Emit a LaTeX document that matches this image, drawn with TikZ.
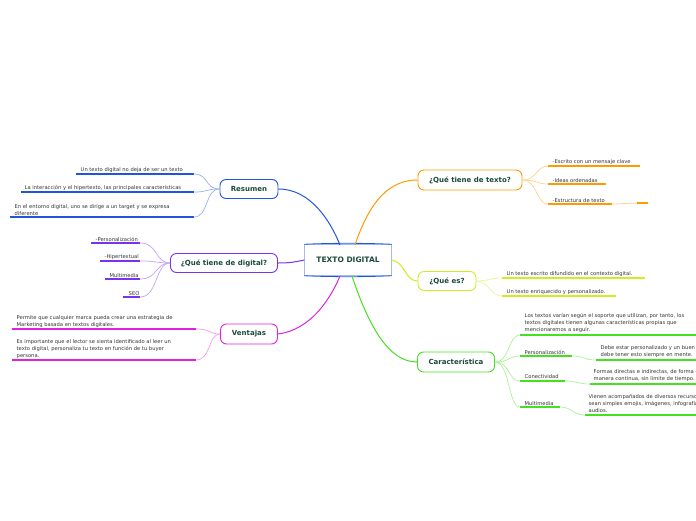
\documentclass[tikz,border=0pt]{standalone}
\usepackage{fontspec}
\setmainfont{DejaVu Sans}
\begin{document}
\begin{tikzpicture}[x=1pt,y=-1pt,
  main/.style={draw=#1,line width=0.9pt,rounded corners=6pt,fill=white,text=tgreen,font=\bfseries\fontsize{7}{8}\selectfont,inner sep=0pt},
  leaf/.style={font=\fontsize{5.2}{7}\selectfont,text=black!80,inner sep=0.5pt,anchor=south west,align=left},
  ul/.style={draw=#1,line width=1.3pt},
  con/.style={draw=#1,line width=0.7pt}]
\definecolor{tgreen}{HTML}{1A4A3A}
\definecolor{cblue}{HTML}{2255DD}
\definecolor{cpurp}{HTML}{7733EE}
\definecolor{cmag}{HTML}{E022E0}
\definecolor{cora}{HTML}{FF9A00}
\definecolor{cyel}{HTML}{CCEE22}
\definecolor{cgre}{HTML}{44E022}
\useasboundingbox (0,0) rectangle (696,520);
\clip (0,0) rectangle (696,520);
% central
\node[draw=cblue!40,line width=0.5pt,minimum width=87pt,minimum height=31pt,text=tgreen,font=\bfseries\fontsize{7.5}{9}\selectfont] (c) at (348,260) {TEXTO DIGITAL};
\draw[cblue,line width=0.8pt] (c.north west) .. controls (330,243) and (366,243) .. (c.north east);
\draw[cblue,line width=0.8pt] (c.south west) .. controls (330,277) and (366,277) .. (c.south east);
% main nodes
\node[main=cblue,minimum width=58pt,minimum height=19pt] (res) at (249,189) {Resumen};
\node[main=cpurp,minimum width=107pt,minimum height=19pt] (dig) at (224,263) {¿Qué tiene de digital?};
\node[main=cmag,minimum width=57pt,minimum height=20pt] (ven) at (249,334) {Ventajas};
\node[main=cora,minimum width=104pt,minimum height=20pt] (tex) at (470,180) {¿Qué tiene de texto?};
\node[main=cyel,minimum width=58pt,minimum height=19pt] (que) at (447,281) {¿Qué es?};
\node[main=cgre,minimum width=77pt,minimum height=20pt] (car) at (456,362) {Característica};
% center connectors
\draw[con=cblue,line width=1pt] (res.east) .. controls (310,189) and (330,220) .. (340,245);
\draw[con=cpurp,line width=1pt] (dig.east) .. controls (290,263) and (295,262) .. (c.west);
\draw[con=cmag,line width=1pt] (ven.east) .. controls (310,330) and (330,300) .. (340,276);
\draw[con=cora,line width=1pt] (355,245) .. controls (370,200) and (390,180) .. (tex.west);
\draw[con=cyel,line width=1pt] (c.east) .. controls (405,262) and (405,281) .. (que.west);
\draw[con=cgre,line width=1pt] (352,276) .. controls (370,330) and (390,362) .. (car.west);
% Resumen leaves
\node[leaf] (r1) at (80,173) {Un texto digital no deja de ser un texto};
\node[leaf] (r2) at (24,191) {La interacción y el hipertexto, las principales características};
\node[leaf] (r3) at (14,216) {En el entorno digital, uno se dirige a un target y se expresa\\diferente};
\coordinate (r1a) at (76,174); \coordinate (r1e) at (194,174);
\coordinate (r2a) at (21,192); \coordinate (r2e) at (194,192);
\coordinate (r3a) at (10,217); \coordinate (r3e) at (194,217);
\foreach \n in {r1,r2,r3}{\draw[ul=cblue] (\n a) -- (\n e);
  \draw[con=cblue!45] (\n e) .. controls +(15,0) and +(-15,0) .. (res.west);}
% digital leaves
\node[leaf] (d1) at (95,242) {-Personalización};
\node[leaf] (d2) at (104,260) {-Hipertextual};
\node[leaf] (d3) at (109,278) {Multimedia};
\node[leaf] (d4) at (128,296) {SEO};
\coordinate (d1a) at (91,243); \coordinate (d1e) at (140,243);
\coordinate (d2a) at (100,261); \coordinate (d2e) at (140,261);
\coordinate (d3a) at (105,279); \coordinate (d3e) at (140,279);
\coordinate (d4a) at (123,297); \coordinate (d4e) at (140,297);
\foreach \n in {d1,d2,d3,d4}{\draw[ul=cpurp] (\n a) -- (\n e);
  \draw[con=cpurp!45] (\n e) .. controls +(18,0) and +(-15,0) .. (dig.west);}
% Ventajas leaves
\node[leaf] (v1) at (16,328) {Permite que cualquier marca pueda crear una estrategia de\\Marketing basada en textos digitales.};
\node[leaf] (v2) at (16,359) {Es importante que el lector se sienta identificado al leer un\\texto digital, personaliza tu texto en función de tu buyer\\persona.};
\coordinate (v1a) at (12,329); \coordinate (v1e) at (196,329);
\coordinate (v2a) at (12,360); \coordinate (v2e) at (196,360);
\foreach \n in {v1,v2}{\draw[ul=cmag] (\n a) -- (\n e);
  \draw[con=cmag!45] (\n e) .. controls +(15,0) and +(-12,0) .. (ven.west);}
% Texto leaves
\node[leaf] (t1) at (552,165) {-Escrito con un mensaje clave};
\node[leaf] (t2) at (552,183) {-Ideas ordenadas};
\node[leaf] (t3) at (552,203) {-Estructura de texto};
\coordinate (t1a) at (548,166); \coordinate (t1e) at (640,166);
\coordinate (t2a) at (548,184); \coordinate (t2e) at (606,184);
\coordinate (t3a) at (548,204); \coordinate (t3e) at (612,204);
\foreach \n in {t1,t2,t3}{\draw[ul=cora] (\n a) -- (\n e);
  \draw[con=cora!45] (tex.east) .. controls +(15,0) and +(-12,0) .. (\n a);}
\coordinate (t4a) at (637,203); \coordinate (t4e) at (648,203);
\draw[ul=cora] (t4a) -- (t4e);
\draw[con=cora!45] (t3e) .. controls +(12,0) and +(-12,0) .. (t4a);
% Que es leaves
\node[leaf] (q1) at (506,277) {Un texto escrito difundido en el contexto digital.};
\node[leaf] (q2) at (506,295) {Un texto enriquecido y personalizado.};
\coordinate (q1a) at (502,278); \coordinate (q1e) at (645,278);
\coordinate (q2a) at (502,296); \coordinate (q2e) at (616,296);
\foreach \n in {q1,q2}{\draw[ul=cyel] (\n a) -- (\n e);
  \draw[con=cyel!50] (que.east) .. controls +(12,0) and +(-12,0) .. (\n a);}
% Caracteristica leaves
\node[leaf] (k1) at (524,333) {Los textos varían según el soporte que utilizan, por tanto, los\\textos digitales tienen algunas características propias que\\mencionaremos a seguir.};
\node[leaf] (k2) at (524,355) {Personalización};
\node[leaf] (k3) at (524,379) {Conectividad};
\node[leaf] (k4) at (524,406) {Multimedia};
\coordinate (k1a) at (520,335); \coordinate (k1e) at (700,335);
\coordinate (k2a) at (520,356); \coordinate (k2e) at (572,356);
\coordinate (k3a) at (520,381); \coordinate (k3e) at (565,381);
\coordinate (k4a) at (520,407); \coordinate (k4e) at (560,407);
\foreach \n in {k1,k2,k3,k4}{\draw[ul=cgre] (\n a) -- (\n e);
  \draw[con=cgre!45] (car.east) .. controls +(15,0) and +(-12,0) .. (\n a);}
\node[leaf] (k5) at (600,358) {Debe estar personalizado y un buen texto digital\\debe tener esto siempre en mente.};
\node[leaf] (k6) at (593,382) {Formas directas e indirectas, de forma que se conecte de\\manera continua, sin límite de tiempo.};
\node[leaf] (k7) at (588,413) {Vienen acompañados de diversos recursos, ya\\sean simples emojis, imágenes, infografías o\\audios.};
\coordinate (k5a) at (596,360); \coordinate (k5e) at (700,360);
\coordinate (k6a) at (590,384); \coordinate (k6e) at (700,384);
\coordinate (k7a) at (585,415); \coordinate (k7e) at (700,415);
\draw[ul=cgre] (k5a) -- (k5e); \draw[ul=cgre] (k6a) -- (k6e); \draw[ul=cgre] (k7a) -- (k7e);
\draw[con=cgre!45] (k2e) .. controls +(12,0) and +(-12,0) .. (k5a);
\draw[con=cgre!45] (k3e) .. controls +(12,0) and +(-12,0) .. (k6a);
\draw[con=cgre!45] (k4e) .. controls +(12,0) and +(-12,0) .. (k7a);
\end{tikzpicture}
\end{document}
